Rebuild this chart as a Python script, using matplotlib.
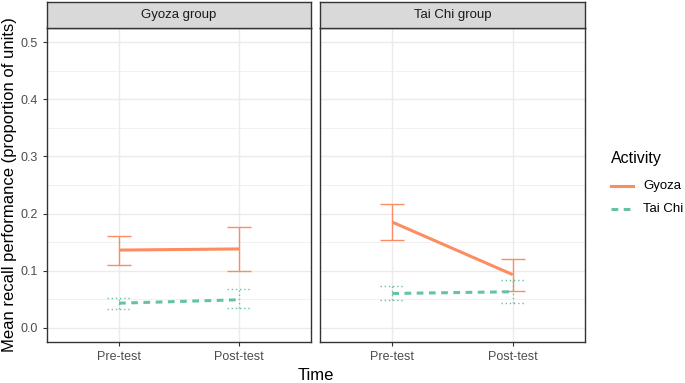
import numpy as np
import matplotlib
matplotlib.use('Agg')
from matplotlib import pyplot as plt
from matplotlib.lines import Line2D

plt.rcParams['font.family'] = ['Liberation Sans', 'DejaVu Sans']

times = ["Pre-test", "Post-test"]
groups = ["Gyoza group", "Tai Chi group"]
activities = ["Gyoza", "Tai Chi"]

# rows = group panel, cols = time
gyoza_mean = [[0.136, 0.138], [0.185, 0.093]]
gyoza_low = [[0.109, 0.100], [0.153, 0.065]]
gyoza_high = [[0.160, 0.177], [0.216, 0.121]]

taichi_mean = [[0.043, 0.049], [0.060, 0.063]]
taichi_low = [[0.032, 0.035], [0.048, 0.044]]
taichi_high = [[0.052, 0.067], [0.073, 0.083]]

yticks = [0.0, 0.1, 0.2, 0.3, 0.4, 0.5]

COL_G = "#FC8D62"
COL_T = "#66C2A5"
BORDER = "#333333"
GRID = "#EBEBEB"
TICKCOL = "#4D4D4D"
DASH = (0, (2.2, 1.8))
DOT = (0, (1, 2))

fig = plt.figure(figsize=(6.85, 3.83), dpi=100)
W, H = 685, 383

def box(x0, y0, x1, y1):
    return [x0 / W, 1 - y1 / H, (x1 - x0) / W, (y1 - y0) / H]

panels = [(47, 311), (320, 585)]
x = np.arange(1, len(times) + 1)

for gi, (px0, px1) in enumerate(panels):
    ax = fig.add_axes(box(px0, 28, px1, 342))
    ax.set_xlim(0.4, 2.6)
    ax.set_ylim(-0.025, 0.525)
    ax.set_yticks(yticks)
    ax.set_yticks([0.05, 0.15, 0.25, 0.35, 0.45], minor=True)
    ax.set_xticks(x)
    ax.set_xticklabels(times)
    ax.grid(True, which='major', color=GRID, linewidth=1.0, zorder=0)
    ax.grid(True, which='minor', axis='y', color=GRID, linewidth=0.5, zorder=0)
    ax.tick_params(which='minor', length=0)
    ax.tick_params(which='major', length=3, width=0.8, color=BORDER,
                   labelcolor=TICKCOL, labelsize=9)
    ax.set_axisbelow(True)
    for s in ax.spines.values():
        s.set_color(BORDER)
        s.set_linewidth(1.0)
    if gi == 0:
        ax.set_yticklabels(["%.1f" % v for v in yticks])
    else:
        ax.set_yticklabels([])
        ax.tick_params(axis='y', length=0)

    # Gyoza
    ax.vlines(x, gyoza_low[gi], gyoza_high[gi], color=COL_G, lw=1.0, zorder=3)
    ax.hlines(gyoza_low[gi], x - 0.1, x + 0.1, color=COL_G, lw=1.0, zorder=3)
    ax.hlines(gyoza_high[gi], x - 0.1, x + 0.1, color=COL_G, lw=1.0, zorder=3)
    ax.plot(x, gyoza_mean[gi], color=COL_G, lw=2.2, zorder=4, solid_capstyle='butt')

    # Tai Chi
    ax.vlines(x, taichi_low[gi], taichi_high[gi], color=COL_T, lw=1.0,
              linestyles=DOT, zorder=3)
    ax.hlines(taichi_low[gi], x - 0.1, x + 0.1, color=COL_T, lw=1.0,
              linestyles=DOT, zorder=3)
    ax.hlines(taichi_high[gi], x - 0.1, x + 0.1, color=COL_T, lw=1.0,
              linestyles=DOT, zorder=3)
    ax.plot(x, taichi_mean[gi], color=COL_T, lw=2.2, ls=DASH, zorder=4)

    # facet strip
    sax = fig.add_axes(box(px0, 2, px1, 28))
    sax.set_facecolor("#D9D9D9")
    sax.set_xticks([])
    sax.set_yticks([])
    for s in sax.spines.values():
        s.set_color(BORDER)
        s.set_linewidth(1.0)
    sax.text(0.5, 0.5, groups[gi], ha='center', va='center', fontsize=9.5,
             color="#1A1A1A", transform=sax.transAxes)

fig.text(316 / W, 1 - 375 / H, "Time", ha='center', va='center', fontsize=12)
fig.text(10 / W, 1 - 185 / H, "Mean recall performance (proportion of units)",
         rotation=90, ha='center', va='center', fontsize=12)

# legend drawn by hand
fig.text(611 / W, 1 - 158 / H, "Activity", ha='left', va='center', fontsize=11.5)
key_y = [186, 209]
key_styles = [dict(color=COL_G, lw=2.2), dict(color=COL_T, lw=2.2, ls=DASH)]
for lab, ky, st in zip(activities, key_y, key_styles):
    fig.add_artist(Line2D([611 / W, 633 / W], [1 - ky / H, 1 - ky / H],
                          transform=fig.transFigure, **st))
    fig.text(643 / W, 1 - ky / H, lab, ha='left', va='center', fontsize=9.5)

fig.savefig("out.png", dpi=100)
